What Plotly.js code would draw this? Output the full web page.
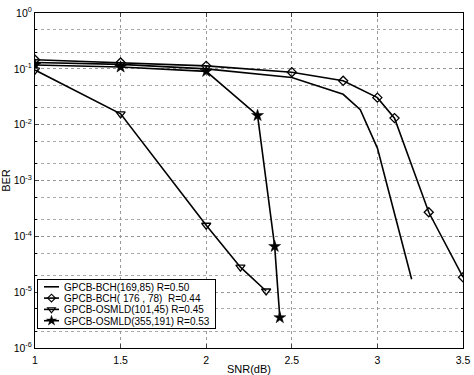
<!DOCTYPE html>
<html><head><meta charset="utf-8">
<script src="https://cdn.plot.ly/plotly-3.0.1.min.js"></script>
<style>html,body{margin:0;padding:0;background:#fff}#chart{width:474px;height:375px}</style>
</head><body><div id="chart"></div>
<script>
const names = ["GPCB-BCH(169,85) R=0.50", "GPCB-BCH( 176 , 78)  R=0.44", "GPCB-OSMLD(101,45) R=0.45", "GPCB-OSMLD(355,191) R=0.53"];
const x_bch169 = [1, 1.5, 2, 2.5, 2.8, 2.9, 3.0, 3.2];
const y_bch169 = [0.13, 0.12, 0.1, 0.07, 0.035, 0.0185, 0.0038, 1.7e-5];
const x_bch176 = [1, 1.5, 2, 2.5, 2.8, 3.0, 3.1, 3.3, 3.5];
const y_bch176 = [0.145, 0.13, 0.113, 0.087, 0.061, 0.0305, 0.0131, 2.7e-4, 1.85e-5];
const x_osm101 = [1, 1.5, 2, 2.2, 2.35];
const y_osm101 = [0.095, 0.0156, 1.58e-4, 2.8e-5, 1.05e-5];
const x_osm355 = [1, 1.5, 2, 2.3, 2.4, 2.43];
const y_osm355 = [0.117, 0.108, 0.09, 0.0146, 6.6e-5, 3.5e-6];
const xTicks = [1, 1.5, 2, 2.5, 3, 3.5];
const xTickText = ["1", "1.5", "2", "2.5", "3", "3.5"];
const yTicks = [1, 0.1, 0.01, 0.001, 1e-4, 1e-5, 1e-6];
const yTickText = ["10<sup>0</sup>", "10<sup>-1</sup>", "10<sup>-2</sup>", "10<sup>-3</sup>", "10<sup>-4</sup>", "10<sup>-5</sup>", "10<sup>-6</sup>"];

const ln = {color: "#000", width: 1.6};
const traces = [
  {x: x_bch169, y: y_bch169, name: names[0], mode: "lines", line: ln},
  {x: x_bch176, y: y_bch176, name: names[1], mode: "lines+markers", line: ln,
   marker: {symbol: "diamond-open", size: 7, color: "#000", line: {width: 1.3, color: "#000"}}},
  {x: x_osm101, y: y_osm101, name: names[2], mode: "lines+markers", line: ln,
   marker: {symbol: "triangle-down-open", size: 8, color: "#000", line: {width: 1.3, color: "#000"}}},
  {x: x_osm355, y: y_osm355, name: names[3], mode: "lines+markers", line: ln,
   marker: {symbol: "star", size: 9, color: "#000", line: {width: 0.5, color: "#000"}}}
];
const fam = "Liberation Sans, Arial, sans-serif";
const fnt = {family: fam, size: 10.5, color: "#000"};
const layout = {
  width: 474, height: 375,
  margin: {l: 35, r: 11, t: 13, b: 27},
  paper_bgcolor: "#fff", plot_bgcolor: "#fff",
  font: fnt,
  showlegend: true,
  legend: {x: 0.005, y: 0.06, xanchor: "left", yanchor: "bottom", bgcolor: "#fff",
           bordercolor: "#000", borderwidth: 1, font: {family: fam, size: 10, color: "#000"},
           tracegroupgap: 0, itemwidth: 30},
  xaxis: {range: [1, 3.5], tickvals: xTicks, ticktext: xTickText, ticks: "inside", ticklen: 4,
          showline: true, linecolor: "#000", linewidth: 1, mirror: "ticks", zeroline: false,
          showgrid: true, gridcolor: "#999", griddash: "dot", gridwidth: 1, ticklabelstandoff: 2,
          title: {text: "SNR(dB)", font: {family: fam, size: 11, color: "#000"}, standoff: 1}},
  yaxis: {type: "log", range: [-6, 0], tickvals: yTicks, ticktext: yTickText, ticks: "inside", ticklen: 4,
          showline: true, linecolor: "#000", linewidth: 1, mirror: "ticks", zeroline: false,
          showgrid: true, gridcolor: "#999", griddash: "dot", gridwidth: 1,
          minor: {showgrid: true, gridcolor: "#aaa", griddash: "dot", gridwidth: 1, ticks: "inside", ticklen: 2, tickcolor: "#000"},
          title: {text: "BER", font: {family: fam, size: 11, color: "#000"}, standoff: 4}}
};
Plotly.newPlot("chart", traces, layout, {displayModeBar: false, staticPlot: true}).then(function () {
  // compact legend layout to match the reference
  const leg = document.querySelector("g.legend");
  if (!leg) return;
  const step = 11.3;
  const textX = 26;
  let maxW = 0;
  const items = leg.querySelectorAll("g.traces");
  items.forEach(function (g, i) {
    g.setAttribute("transform", "translate(1," + (7.5 + i * step).toFixed(1) + ")");
    const t = g.querySelector("text.legendtext");
    if (t) {
      t.setAttribute("x", textX);
      try { maxW = Math.max(maxW, t.getComputedTextLength()); } catch (e) {}
    }
    g.querySelectorAll("g.legendlines path").forEach(function (p) { p.setAttribute("d", "M6,0h15"); });
    g.querySelectorAll("g.legendpoints path.scatterpts").forEach(function (p) {
      p.setAttribute("transform", "translate(13.5,0) scale(0.85)");
    });
  });
  const bg = leg.querySelector("rect.bg");
  const h = items.length * step + 3.5;
  if (bg) {
    bg.setAttribute("height", h);
    if (maxW > 0) bg.setAttribute("width", textX + maxW + 7);
  }
  const sb = leg.querySelector("g.scrollbox");
  if (sb) sb.removeAttribute("clip-path");
  leg.setAttribute("transform", "translate(37," + (328 - h).toFixed(1) + ")");
});
</script></body></html>
